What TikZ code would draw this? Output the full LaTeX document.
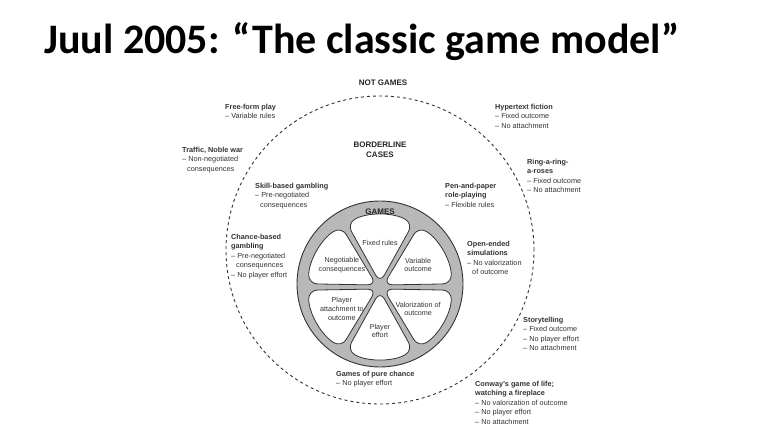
\documentclass[tikz,border=0pt]{standalone}
\usepackage{fontspec}
\usetikzlibrary{calc}
\setmainfont{Liberation Sans}
\newfontfamily\titlefont{Carlito}
\begin{document}
\begin{tikzpicture}[x=1pt,y=-1pt,
  lbl/.style={anchor=north west,align=left,inner sep=0pt,font=\fontsize{7.3}{9.4}\selectfont,text=black!80},
  hd/.style={font=\bfseries\fontsize{8}{10}\selectfont,text=black!85,align=center,inner sep=0pt},
  petal/.style={draw=black!80,fill=white,line width=0.8pt,rounded corners=9pt},
  ptxt/.style={font=\fontsize{7.2}{8.8}\selectfont,align=center,inner sep=0pt,text=black!80}]
\useasboundingbox (0,0) rectangle (768,433);
\fill[white] (0,0) rectangle (768,433);
\node[font=\titlefont\bfseries\fontsize{42}{46}\selectfont,anchor=west,inner sep=0pt] (title) at (44,42) {Juul 2005: “The classic game model”};
\node[circle,draw=black!80,dashed,line width=0.9pt,minimum size=308pt,inner sep=0pt] (outer) at (380,250) {};
\node[circle,draw=black!80,fill=black!28,line width=0.9pt,minimum size=166pt,inner sep=0pt] (games) at (380,284) {};
\begin{scope}[shift={(380,287)},yscale=-1]
\foreach \a/\t/\n in {90/{Fixed rules}/p1,30/{Variable\\outcome}/p2,-30/{Valorization of\\outcome}/p3,-90/{Player\\effort}/p4,-150/{Player\\attachment to\\outcome}/p5,150/{Negotiable\\consequences}/p6}{
   \draw[petal,shift={(\a:4)}] (0,0) -- ({\a-29}:68) arc[start angle={\a-29},end angle={\a+29},radius=68] -- cycle;
   \node[ptxt] (\n) at (\a:44) {\t};
}
\end{scope}
\node[hd] (gm) at (380,212) {GAMES};
\node[hd] (ng) at (383,83) {NOT GAMES};
\node[hd] (bc) at (380,150) {BORDERLINE\\CASES};
\node[lbl] (a1) at (225,104) {\textbf{Free-form play}\\– Variable rules};
\node[lbl] (a2) at (182,147) {\textbf{Traffic, Noble war}\\– Non-negotiated\\\hspace*{5pt}consequences};
\node[lbl] (a3) at (255,183) {\textbf{Skill-based gambling}\\– Pre-negotiated\\\hspace*{5pt}consequences};
\node[lbl] (a4) at (495,104) {\textbf{Hypertext fiction}\\– Fixed outcome\\– No attachment};
\node[lbl] (a5) at (527,159) {\textbf{Ring-a-ring-}\\\textbf{a-roses}\\– Fixed outcome\\– No attachment};
\node[lbl] (a6) at (445,183) {\textbf{Pen-and-paper}\\\textbf{role-playing}\\– Flexible rules};
\node[lbl] (a7) at (231,234) {\textbf{Chance-based}\\\textbf{gambling}\\– Pre-negotiated\\\hspace*{5pt}consequences\\– No player effort};
\node[lbl] (a8) at (467,241) {\textbf{Open-ended}\\\textbf{simulations}\\– No valorization\\\hspace*{5pt}of outcome};
\node[lbl] (a9) at (523,317) {\textbf{Storytelling}\\– Fixed outcome\\– No player effort\\– No attachment};
\node[lbl] (a10) at (336,371) {\textbf{Games of pure chance}\\– No player effort};
\node[lbl] (a11) at (475,381) {\textbf{Conway's game of life;}\\\textbf{watching a fireplace}\\– No valorization of outcome\\– No player effort\\– No attachment};
\end{tikzpicture}
\end{document}
